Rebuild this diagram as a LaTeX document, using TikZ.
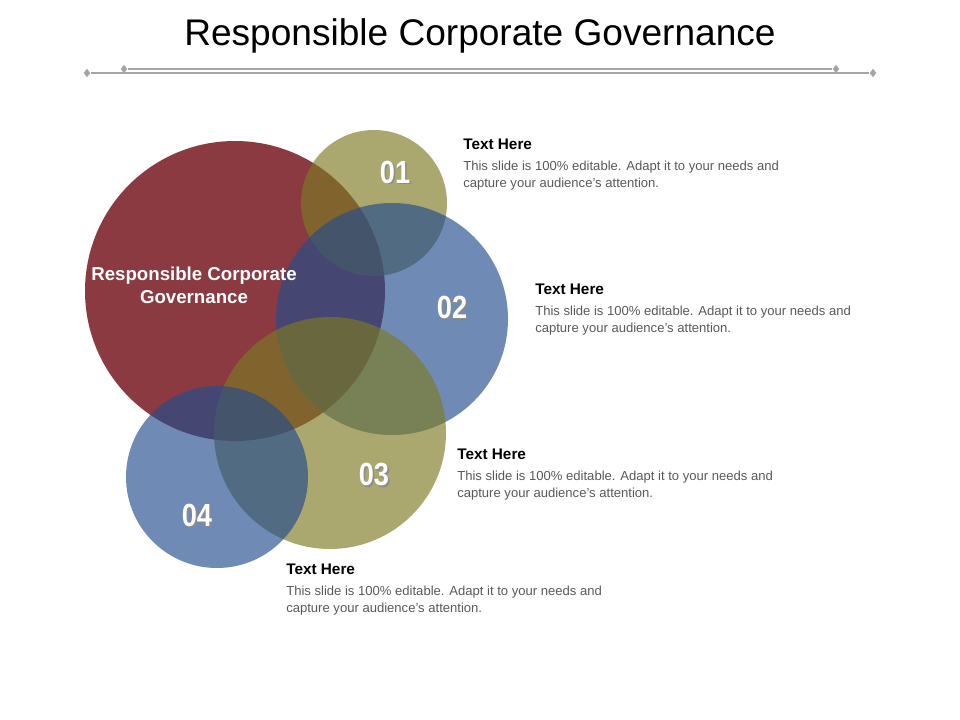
\documentclass[tikz,border=0pt]{standalone}
\usepackage{fontspec}
\setmainfont{Liberation Sans}
\usetikzlibrary{positioning, shapes.geometric}

\definecolor{wine}{RGB}{139,58,66}
\definecolor{moss}{RGB}{125,122,34}
\definecolor{steel}{RGB}{34,77,141}
\definecolor{rulegray}{RGB}{165,165,165}
\definecolor{bodygray}{RGB}{89,89,89}

\newcommand{\bodytext}{This slide is 100\% editable. Adapt it to your needs and\\capture your audience's attention.}

\begin{document}
\begin{tikzpicture}[
        x=0.75pt, y=-0.75pt,
        bubble/.style={circle, inner sep=0pt, draw=none},
        tip/.style={diamond, fill=rulegray, inner sep=0pt, minimum width=5pt, minimum height=6.5pt},
        rule/.style={draw=rulegray, line width=0.9pt},
        num/.style={text=white, font=\fontsize{24}{24}\selectfont\bfseries},
        numshadow/.style={num, text=black!45},
        head/.style={anchor=west, inner sep=0pt, font=\fontsize{11.5}{13}\selectfont\bfseries},
        body/.style={inner sep=0pt, align=left, text=bodygray, font=\fontsize{9.8}{12.5}\selectfont},
    ]
    \useasboundingbox (0,0) rectangle (960,720);

    % Title and the double rule under it
    \node (title) at (480,36) {\fontsize{27.8}{30}\selectfont Responsible Corporate Governance};
    \node[tip] (ua) at (124,69) {};
    \node[tip] (ub) at (836,69) {};
    \node[tip] (la) at (87,73) {};
    \node[tip] (lb) at (873,73) {};
    \draw[rule] (ua) -- (ub);
    \draw[rule] (la) -- (lb);

    % Draw the circles
    \node[bubble, fill=wine, minimum size=225pt] (main) at (235,291) {};
    \node[bubble, fill=moss, fill opacity=0.65, minimum size=109.5pt] (c1) at (374,203) {};
    \node[bubble, fill=steel, fill opacity=0.65, minimum size=174pt] (c2) at (392,319) {};
    \node[bubble, fill=moss, fill opacity=0.65, minimum size=174pt] (c3) at (330,433) {};
    \node[bubble, fill=steel, fill opacity=0.65, minimum size=136.5pt] (c4) at (217,477) {};

    \node[text=white, align=center, font=\fontsize{14}{17}\selectfont\bfseries] (core) at (194,285)
        {Responsible Corporate\\Governance};

    % Numbers with a soft shadow
    \foreach \n / \x / \y in {01/395/172, 02/452/307, 03/374/475, 04/197/515} {
        \node[numshadow] (s\n) at (\x+1.5,\y+1.5) {\scalebox{0.85}[1]{\n}};
        \node[num] (n\n) at (\x,\y) {\scalebox{0.85}[1]{\n}};
    }

    % Text blocks
    \foreach \n / \x / \y in {1/463/144, 2/535/289, 3/457/454, 4/286/569} {
        \node[head] (h\n) at (\x,\y) {Text Here};
        \node[body, below=8.5pt of h\n.south west, anchor=north west] (b\n) {\bodytext};
    }
\end{tikzpicture}
\end{document}
